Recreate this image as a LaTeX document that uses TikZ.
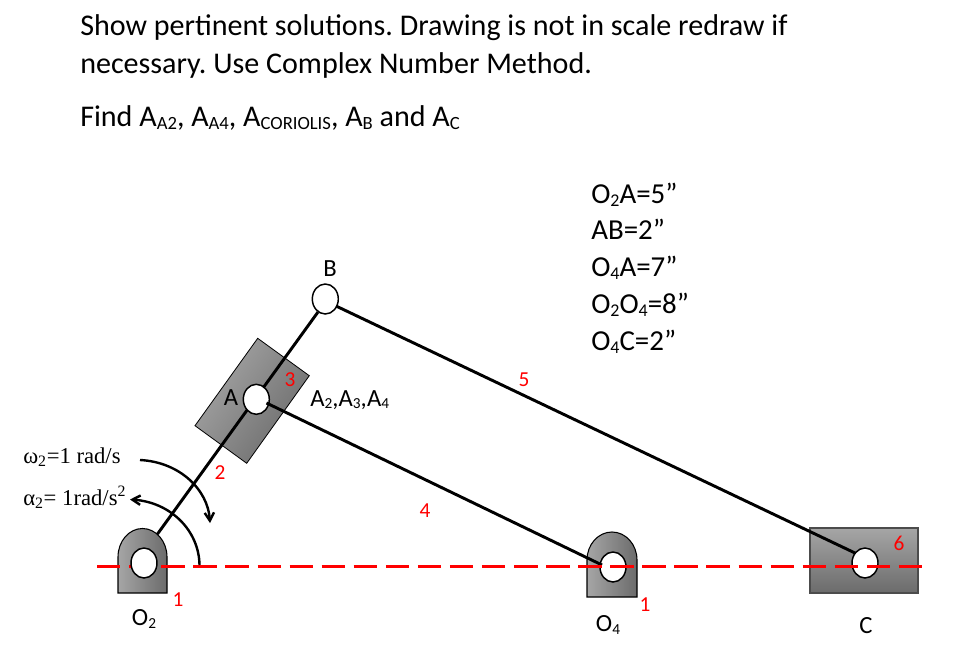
\documentclass[tikz,border=0pt]{standalone}
\usepackage{fontspec}
\setmainfont{Carlito}
\newfontfamily\labelserif{Liberation Serif}
\usetikzlibrary{shapes, arrows.meta}
\frenchspacing
\newcommand{\lowsub}[1]{\raisebox{-0.12em}{\scalebox{0.62}{#1}}}
\definecolor{pinlight}{gray}{0.65}
\definecolor{pindark}{gray}{0.42}
\tikzset{
	bodytext/.style={anchor=base west, inner sep=0pt, font=\fontsize{22.55}{26}\selectfont},
	dimtext/.style={anchor=base west, inner sep=0pt, font=\fontsize{21.7}{24}\selectfont},
	marktext/.style={inner sep=0pt, font=\fontsize{18.5}{20}\selectfont},
	linknum/.style={inner sep=0pt, text=red, font=\fontsize{16}{18}\selectfont},
	ratetext/.style={anchor=base west, inner sep=0pt, font=\labelserif\fontsize{17}{20}\selectfont},
	link/.style={line width=2.2pt},
	hole/.style={draw, fill=white, ellipse, line width=1.1pt, minimum width=19.5pt, minimum height=22.5pt, inner sep=0pt},
	ground/.style={draw=red, line width=2.6pt, dash pattern=on 17.6pt off 6.45pt},
	pedestal/.style={draw, line width=0.8pt, left color=pinlight, right color=pindark},
	rate/.style={line width=1.8pt, -{Straight Barb[length=6pt,width=7pt]}}
}
\begin{document}
\begin{tikzpicture}[x=0.75pt, y=-0.75pt]
		\useasboundingbox (0,0) rectangle (953,671);
		
		\node [bodytext] (line1) at (80,35) {Show pertinent solutions. Drawing is not in scale redraw if};
		\node [bodytext] (line2) at (80,73) {necessary. Use Complex Number Method.};
		\node [bodytext] (line3) at (80,126) {Find A\lowsub{A2}, A\lowsub{A4}, A\lowsub{CORIOLIS}, A\lowsub{B} and A\lowsub{C}};
		
		\node [dimtext] (dim1) at (591,203) {O\lowsub{2}A=5”};
		\node [dimtext] (dim2) at (591,239) {AB=2”};
		\node [dimtext] (dim3) at (591,276) {O\lowsub{4}A=7”};
		\node [dimtext] (dim4) at (591,313) {O\lowsub{2}O\lowsub{4}=8”};
		\node [dimtext] (dim5) at (591,350) {O\lowsub{4}C=2”};
		
		\draw [pedestal] (118,593)--(118,557)
		arc (180:360:24.5 and 28.5)--(167,593)--cycle;
		\draw [pedestal] (587,597)--(587,560)
		arc (180:360:25 and 28)--(637,597)--cycle;
		\draw [draw=black!70, line width=0.8pt, top color=pinlight, bottom color=pindark]
		(810,528) rectangle (918,593);
		\draw [draw=black, line width=0.6pt, left color=pinlight, right color=pindark, shading angle=55]
		(257.7,338.3)--(309.3,375.7)--(246.7,463.3)--(195,425.7)--cycle;
		
		\coordinate (O2top) at (157.5,534);
		\coordinate (O4end) at (602,565);
		\coordinate (Aend) at (266.5,403);
		\coordinate (Cend) at (855,553);
		\coordinate (Bend) at (336,306);
		
		\draw [ground] (97,566.5)--(160,566.5);
		
		\node [hole] (O2) at (144,563) {};
		\node [hole] (O4) at (613,567) {};
		\node [hole] (C) at (865,563) {};
		
		\draw [link] (O2top)--(318,312);
		\node [hole] (A) at (256.3,399.3) {};
		\node [hole] (B) at (325.3,299) {};
		\draw [link] (Aend)--(O4end);
		\draw [link] (Bend)--(Cend);
		
		\draw [ground] (161.3,566.5)--(923,566.5);
		
		\draw [rate] (140,460) .. controls (180,462) and (208,490) .. (210,523);
		\draw [rate] (199.5,565) .. controls (199,530) and (170,502) .. (130,499.5);
		
		\node [ratetext] (omega) at (23,463) {ω\textsubscript{2}=1 rad/s};
		\node [ratetext] (alpha) at (23,505) {α\textsubscript{2}= 1rad/s\textsuperscript{2}};
		
		\node [marktext] at (330,269) (labB) {B};
		\node [marktext] at (231,398) (labA) {A};
		\node [marktext, anchor=base west] at (310,406) (labAs) {A\lowsub{2},A\lowsub{3},A\lowsub{4}};
		\node [marktext] at (144,619) (labO2) {O\lowsub{2}};
		\node [marktext] at (608,625) (labO4) {O\lowsub{4}};
		\node [marktext] at (866,626) (labC) {C};
		
		\node [linknum] at (178,600) (num1a) {1};
		\node [linknum] at (645,605) (num1b) {1};
		\node [linknum] at (220,473) (num2) {2};
		\node [linknum] at (290,380) (num3) {3};
		\node [linknum] at (425,511) (num4) {4};
		\node [linknum] at (524,380) (num5) {5};
		\node [linknum] at (899,543) (num6) {6};
		\end{tikzpicture}
\end{document}
